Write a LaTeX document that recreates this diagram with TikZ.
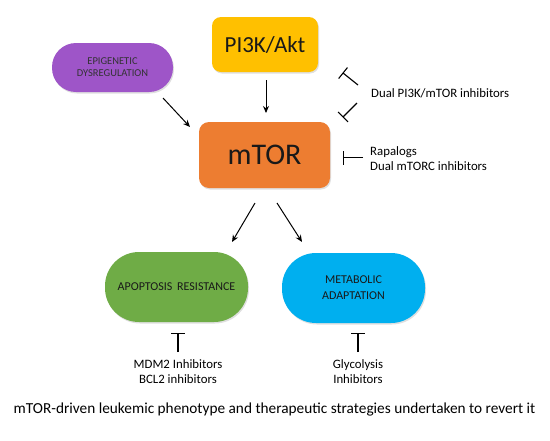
\documentclass[tikz,border=0pt]{standalone}
\usepackage{fontspec}
\setmainfont{Carlito}
\usetikzlibrary{arrows.meta,shadows}
\definecolor{pikY}{HTML}{FFC000}
\definecolor{mtorO}{HTML}{ED7D31}
\definecolor{epiP}{HTML}{9E55C8}
\definecolor{apoG}{HTML}{6FAC46}
\definecolor{metB}{HTML}{00AFEF}
\tikzset{
  box/.style={draw=none, rounded corners=9pt, inner sep=0pt, align=center, text=black!90,
    drop shadow={shadow xshift=1pt, shadow yshift=-1.5pt, opacity=0.25}},
  pill/.style={box, rounded corners=24pt},
  act/.style={-{Stealth[length=7pt,width=6pt]}, line width=1pt},
  inh/.style={-{Bar[width=14pt,line width=1.1pt]}, line width=1.1pt, shorten >=-0.5pt},
  lbl/.style={font=\fontsize{12.8}{15.5}\selectfont, align=left, anchor=west, inner sep=0pt}
}
\begin{document}
\begin{tikzpicture}[x=1pt,y=-1pt]
\useasboundingbox (0,0) rectangle (550,440);
% nodes
\node[box, fill=pikY, minimum width=106pt, minimum height=55pt, font=\fontsize{23}{26}\selectfont] (pi3k) at (265,44.5) {PI3K/Akt};
\node[pill, fill=epiP, minimum width=121pt, minimum height=49pt, font=\fontsize{10.5}{12}\selectfont, text=black!80] (epi) at (112.5,67.5) {EPIGENETIC\\DYSREGULATION};
\node[box, fill=mtorO, rounded corners=10pt, minimum width=131pt, minimum height=66pt, font=\fontsize{30}{34}\selectfont] (mtor) at (264.5,155) {mTOR};
\node[pill, rounded corners=34pt, fill=apoG, minimum width=143pt, minimum height=70pt, font=\fontsize{12}{16}\selectfont] (apo) at (176.5,287) {APOPTOSIS\hspace{0.4em}RESISTANCE};
\node[pill, rounded corners=34pt, fill=metB, minimum width=143pt, minimum height=70pt, font=\fontsize{12}{16}\selectfont] (met) at (353.5,288) {METABOLIC\\ADAPTATION};
% activation arrows
\coordinate (pa) at (266,80);
\coordinate (pb) at (266,113);
\draw[act] (pa) -- (pb);
\coordinate (ea) at (163,98);
\coordinate (eb) at (190,127);
\draw[act] (ea) -- (eb);
\coordinate (la) at (255,203);
\coordinate (lb) at (232,242);
\draw[act] (la) -- (lb);
\coordinate (ra) at (277,203);
\coordinate (rb) at (302,242);
\draw[act] (ra) -- (rb);
% inhibitors on right
\coordinate (i1a) at (358,85);
\coordinate (i1b) at (343,73);
\draw[inh] (i1a) -- (i1b);
\coordinate (i2a) at (357,103);
\coordinate (i2b) at (343,117);
\draw[inh] (i2a) -- (i2b);
\node[lbl] (dual) at (371,93) {Dual PI3K/mTOR inhibitors};
\coordinate (i3a) at (363,157.5);
\coordinate (i3b) at (343,157.5);
\draw[inh] (i3a) -- (i3b);
\node[lbl, anchor=north west] (rapa) at (370,146) {Rapalogs\\Dual mTORC inhibitors};
% inhibitors below
\coordinate (i4a) at (178,352);
\coordinate (i4b) at (178,333);
\draw[inh] (i4a) -- (i4b);
\node[lbl, align=center, anchor=north] (mdm) at (178,359) {MDM2 Inhibitors\\BCL2 inhibitors};
\coordinate (i5a) at (358,352);
\coordinate (i5b) at (358,333);
\draw[inh] (i5a) -- (i5b);
\node[lbl, align=center, anchor=north] (gly) at (358,359) {Glycolysis\\Inhibitors};
% caption
\node[font=\fontsize{15.3}{18}\selectfont, inner sep=0pt] (cap) at (274.5,409) {mTOR-driven leukemic phenotype and therapeutic strategies undertaken to revert it};
\end{tikzpicture}
\end{document}
